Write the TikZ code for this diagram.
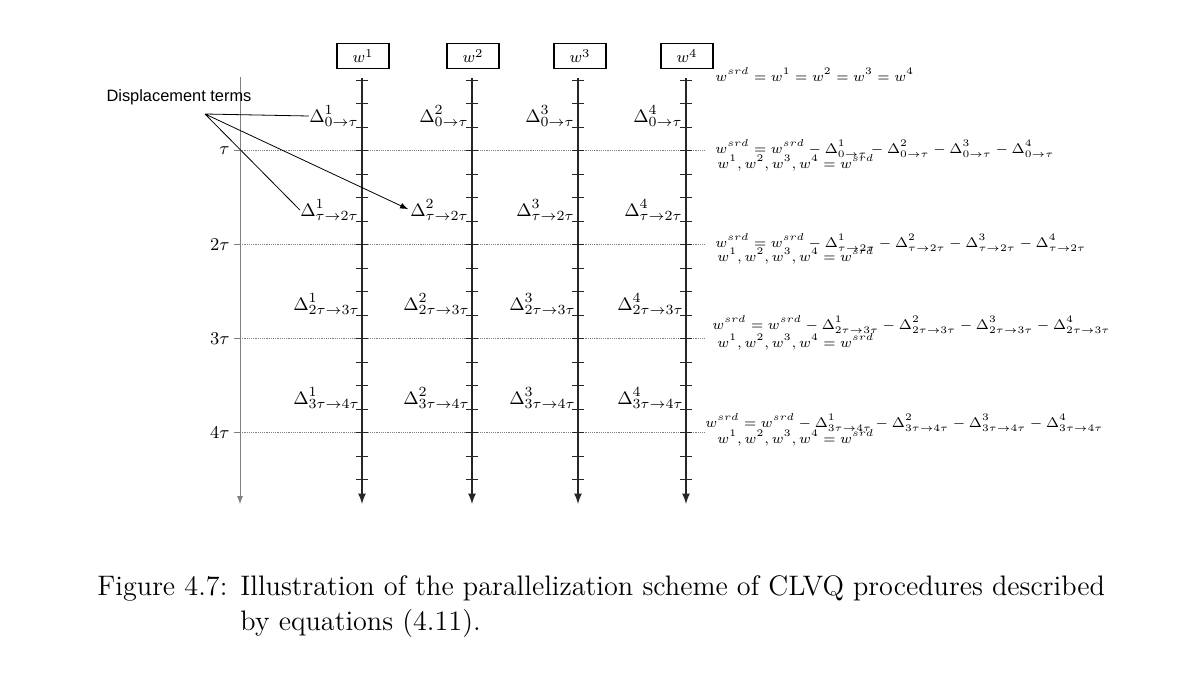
\documentclass[tikz,border=0pt]{standalone}
\usepackage{fontspec}
\newfontfamily\helvfont{Liberation Sans}
\tikzset{
    wbox/.style={draw,semithick,minimum width=26pt,minimum height=12.5pt,inner sep=0pt,font=\fontsize{8}{9}\selectfont},
    dlbl/.style={anchor=east,inner sep=0pt,font=\fontsize{9.5}{11}\selectfont},
    tlbl/.style={anchor=east,inner sep=0pt,font=\fontsize{9.5}{11}\selectfont},
    eqn/.style={anchor=base west,inner sep=0pt,font=\fontsize{7.15}{9}\selectfont},
    tline/.style={gray,dash pattern=on 0.6pt off 0.5pt},
    figcap/.style={anchor=base west,inner sep=0pt,font=\fontsize{14.1}{17}\selectfont}
}
\begin{document}
\begin{tikzpicture}[x=0.5pt,y=-0.5pt]
    \useasboundingbox (0,0) rectangle (1200,675);

    % time axis
    \draw[gray,-latex] (240,77) -- (240,504);
    \draw[thin]
        (230,150.5) node(t1)[tlbl] {$\tau$}
        (230,244.5) node(t2)[tlbl] {$2\tau$}
        (230,338.5) node(t3)[tlbl] {$3\tau$}
        (230,432.5) node(t4)[tlbl] {$4\tau$};
    \foreach \y in {150.5,244.5,338.5,432.5} {
        \draw[gray] (234,\y) -- (240,\y);
        \draw[tline] (240,\y) -- (705,\y);
    }

    % one axis per worker
    \foreach \x in {362,472,578,686} {
        \draw[thick,black!85,-latex] (\x,78) -- (\x,504);
        \foreach \k in {0,...,17}
            \draw[black!85] (\x-6,80+23.5*\k) -- (\x+6,80+23.5*\k);
    }
    \draw[thin]
        (363,56) node(w1)[wbox] {$w^1$}
        (473,56) node(w2)[wbox] {$w^2$}
        (580,56) node(w3)[wbox] {$w^3$}
        (687,56) node(w4)[wbox] {$w^4$};

    % displacement terms
    \draw[thin]
        (359,116) node(d11)[dlbl] {$\Delta^1_{0\to\tau}$}
        (469,116) node(d21)[dlbl] {$\Delta^2_{0\to\tau}$}
        (575,116) node(d31)[dlbl] {$\Delta^3_{0\to\tau}$}
        (683,116) node(d41)[dlbl] {$\Delta^4_{0\to\tau}$}
        (359,210) node(d12)[dlbl] {$\Delta^1_{\tau\to2\tau}$}
        (469,210) node(d22)[dlbl] {$\Delta^2_{\tau\to2\tau}$}
        (575,210) node(d32)[dlbl] {$\Delta^3_{\tau\to2\tau}$}
        (683,210) node(d42)[dlbl] {$\Delta^4_{\tau\to2\tau}$}
        (360,304) node(d13)[dlbl] {$\Delta^1_{2\tau\to3\tau}$}
        (470,304) node(d23)[dlbl] {$\Delta^2_{2\tau\to3\tau}$}
        (576,304) node(d33)[dlbl] {$\Delta^3_{2\tau\to3\tau}$}
        (684,304) node(d43)[dlbl] {$\Delta^4_{2\tau\to3\tau}$}
        (360,398) node(d14)[dlbl] {$\Delta^1_{3\tau\to4\tau}$}
        (470,398) node(d24)[dlbl] {$\Delta^2_{3\tau\to4\tau}$}
        (576,398) node(d34)[dlbl] {$\Delta^3_{3\tau\to4\tau}$}
        (684,398) node(d44)[dlbl] {$\Delta^4_{3\tau\to4\tau}$};

    \node(disp)[inner sep=0pt,font=\helvfont\fontsize{8.2}{10}\selectfont] at (179,97) {Displacement terms};
    \coordinate (dsrc) at (205,114);
    \draw[-latex,shorten >=1pt] (dsrc) -- (d11.west)
        (dsrc) -- (d12.west)
        (dsrc) -- (d22.west);

    % synchronisation of the workers
    \draw[thin]
        (715,81) node(e0)[eqn] {$w^{srd}=w^1=w^2=w^3=w^4$}
        (715,153) node(e1a)[eqn] {$w^{srd}= w^{srd}-\Delta^1_{0\to\tau}-\Delta^2_{0\to\tau}-\Delta^3_{0\to\tau}-\Delta^4_{0\to\tau}$}
        (717,168) node(e1b)[eqn] {$w^1,w^2,w^3,w^4=w^{srd}$}
        (715,247) node(e2a)[eqn] {$w^{srd}= w^{srd}-\Delta^1_{\tau\to2\tau}-\Delta^2_{\tau\to2\tau}-\Delta^3_{\tau\to2\tau}-\Delta^4_{\tau\to2\tau}$}
        (717,261) node(e2b)[eqn] {$w^1,w^2,w^3,w^4=w^{srd}$}
        (712,329) node(e3a)[eqn] {$w^{srd}=w^{srd}-\Delta^1_{2\tau\to3\tau}-\Delta^2_{2\tau\to3\tau}-\Delta^3_{2\tau\to3\tau}-\Delta^4_{2\tau\to3\tau}$}
        (717,347) node(e3b)[eqn] {$w^1,w^2,w^3,w^4=w^{srd}$}
        (705,427) node(e4a)[eqn] {$w^{srd}=w^{srd}-\Delta^1_{3\tau\to4\tau}-\Delta^2_{3\tau\to4\tau}-\Delta^3_{3\tau\to4\tau}-\Delta^4_{3\tau\to4\tau}$}
        (717,443) node(e4b)[eqn] {$w^1,w^2,w^3,w^4=w^{srd}$};

    % caption
    \draw[thin]
        (97,595) node(fig)[figcap] {Figure 4.7:}
        (240,595) node(cap1)[figcap] {Illustration of the parallelization scheme of CLVQ procedures described}
        (240,630) node(cap2)[figcap] {by equations (4.11).};
\end{tikzpicture}
\end{document}
